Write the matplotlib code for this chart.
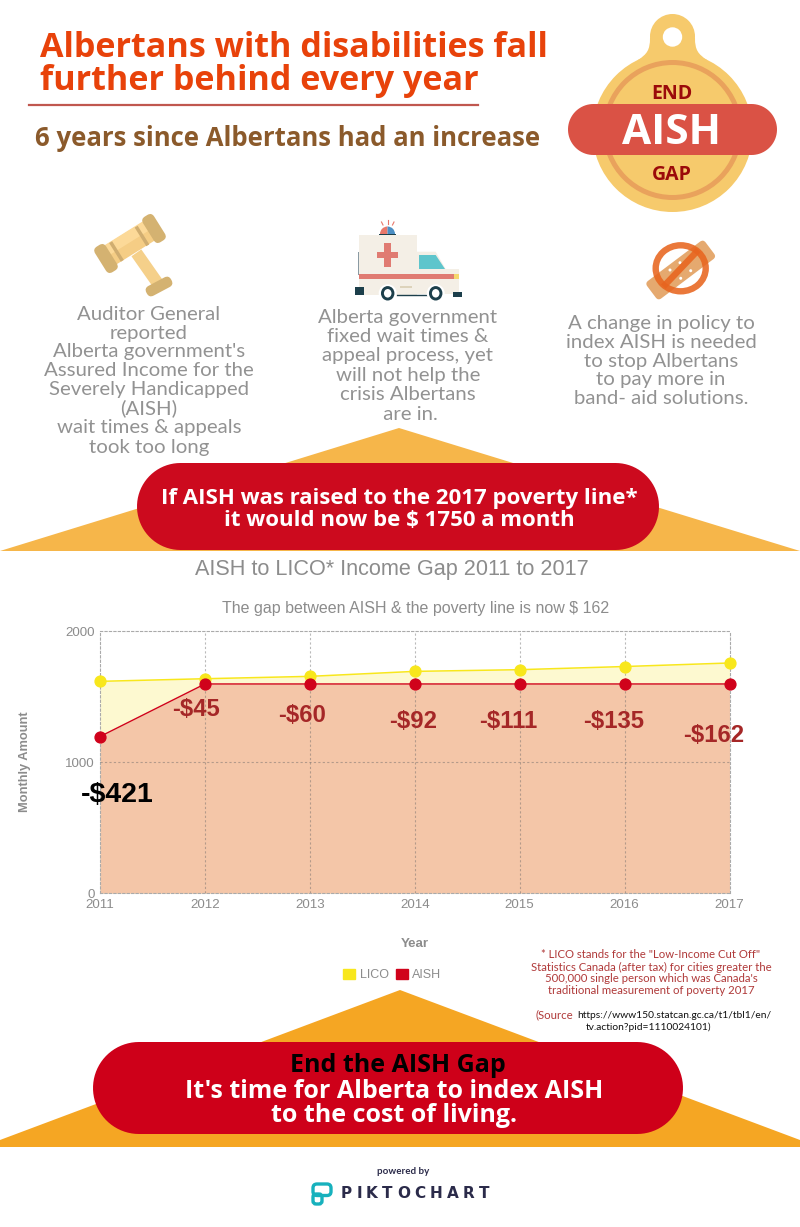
import matplotlib
matplotlib.use('Agg')
import matplotlib.pyplot as plt
import numpy as np
from matplotlib.patches import Polygon, Ellipse, Circle, Rectangle, FancyBboxPatch, PathPatch, Patch, Wedge
from matplotlib.path import Path
from matplotlib.transforms import Affine2D

# Chart data
years = [2011, 2012, 2013, 2014, 2015, 2016, 2017]
lico = [1616, 1636, 1654, 1692, 1705, 1729, 1756]
aish = [1195, 1596, 1596, 1596, 1596, 1596, 1596]
gap_labels = ['-$421', '-$45', '-$60', '-$92', '-$111', '-$135', '-$162']

# Text
title_lines = ['Albertans with disabilities fall', 'further behind every year']
subtitle = '6 years since Albertans had an increase'
col1 = ['Auditor General', 'reported', "Alberta government's", 'Assured Income for the',
        'Severely Handicapped', '(AISH)', 'wait times & appeals', 'took too long']
col2 = ['Alberta government', 'fixed wait times &', 'appeal process, yet', 'will not help the',
        'crisis Albertans', ' are in.']
col3 = ['A change in policy to', 'index AISH is needed', 'to stop Albertans', 'to pay more in',
        'band- aid solutions.']
note_lines = ['* LICO stands for the "Low-Income Cut Off"',
              'Statistics Canada (after tax) for cities greater the',
              "500,000 single person which was Canada's",
              'traditional measurement of poverty 2017']

GREY = '#8c8c8c'
HEAD = 'Open Sans'
BODY = 'Lato'
ARIAL = 'Liberation Sans'

fig = plt.figure(figsize=(8, 12.27), dpi=100, facecolor='white')

# whole page axes in pixels, y down
px = fig.add_axes([0, 0, 1, 1], zorder=0)
px.set_xlim(0, 800)
px.set_ylim(1227, 0)
px.axis('off')


def rot_rect(cx, cy, w, h, angle, color, z=3, rounding=0):
    # rectangle centred on cx, cy and turned by angle degrees
    if rounding:
        p = FancyBboxPatch((cx - w / 2, cy - h / 2), w, h, boxstyle=f'round,pad=0,rounding_size={rounding}',
                           fc=color, ec='none', zorder=z)
    else:
        p = Rectangle((cx - w / 2, cy - h / 2), w, h, fc=color, ec='none', zorder=z)
    p.set_transform(Affine2D().rotate_deg_around(cx, cy, angle) + px.transData)
    px.add_patch(p)


def pill(x0, x1, y0, y1, color, z=2):
    # true half circles at both ends
    r = (y1 - y0) / 2
    t = np.linspace(-np.pi / 2, np.pi / 2, 40)
    right = np.c_[x1 - r + r * np.cos(t), (y0 + y1) / 2 + r * np.sin(t)]
    left = np.c_[x0 + r - r * np.cos(t[::-1]), (y0 + y1) / 2 + r * np.sin(t[::-1])]
    px.add_patch(Polygon(np.r_[right, left], fc=color, ec='none', zorder=z))


def lines_at(lines, x, ys, **kw):
    for s, y in zip(lines, ys):
        px.text(x, y, s, ha='center', va='center', **kw)


def rect(x0, y0, x1, y1, color, z=3):
    px.add_patch(Rectangle((x0, y0), x1 - x0, y1 - y0, fc=color, ec='none', zorder=z))


def spaced(s, x0, x1, y, **kw):
    # spread the letters of s evenly between x0 and x1
    r = fig.canvas.get_renderer()
    inv = px.transData.inverted()
    items = [px.text(0, y, c, ha='left', va='center', **kw) for c in s]
    widths = []
    for t in items:
        b = t.get_window_extent(r)
        widths.append(inv.transform((b.x1, 0))[0] - inv.transform((b.x0, 0))[0])
    gap = (x1 - x0 - sum(widths)) / (len(s) - 1)
    x = x0
    for t, w in zip(items, widths):
        t.set_x(x)
        x += w + gap


# header
px.text(40, 48, title_lines[0], fontsize=24.6, color='#e8420a', fontweight='bold', family=HEAD, va='center')
px.text(40, 81, title_lines[1], fontsize=24.6, color='#e8420a', fontweight='bold', family=HEAD, va='center')
px.plot([29, 478], [105, 105], color='#c0574f', lw=1.6)
px.text(35, 138, subtitle, fontsize=18.5, color='#8b5a2b', fontweight='bold', family=HEAD, va='center')

# badge
px.add_patch(Circle((672.5, 132), 80, fc='#f6ca6c', ec='none', zorder=1))
px.add_patch(Circle((672.5, 36.5), 22.5, fc='#f6ca6c', ec='none', zorder=1))
verts = [(650, 38), (650, 50), (647, 54), (638, 60), (707, 60), (698, 54), (695, 50), (695, 38), (650, 38)]
codes = [Path.MOVETO, Path.CURVE4, Path.CURVE4, Path.CURVE4, Path.LINETO, Path.CURVE4, Path.CURVE4, Path.CURVE4, Path.CLOSEPOLY]
px.add_patch(PathPatch(Path(verts, codes), fc='#f6ca6c', ec='none', zorder=1))
px.add_patch(Circle((672.5, 37), 9.7, fc='white', ec='none', zorder=2))
px.add_patch(Circle((672.5, 130), 67.5, fc='none', ec='#e9a25c', lw=3.6, zorder=2))
pill(568, 777, 104, 155, '#da5245', z=3)
px.text(672, 94, 'END', fontsize=14, color='#9b0a0a', fontweight='bold', family=HEAD, ha='center', va='center', zorder=4)
px.text(672, 175, 'GAP', fontsize=14, color='#9b0a0a', fontweight='bold', family=HEAD, ha='center', va='center', zorder=4)
px.text(672, 134, 'AISH', fontsize=30.5, color='white', fontweight='bold', family=HEAD, ha='center', va='center', zorder=4)

# gavel
rot_rect(147, 268, 37, 12, 55, '#f5d08a')
rot_rect(130, 243, 50, 22, -32, '#f5cd85')
rot_rect(126.5, 238, 50, 11, -32, '#fcd998', z=3.1)
rot_rect(116.5, 251.5, 3.5, 22, -32, '#d0ad70', z=3.2)
rot_rect(142, 236, 3.5, 22, -32, '#d0ad70', z=3.2)
rot_rect(154, 228.5, 13, 30, -32, '#d4b271', z=3.3, rounding=5)
rot_rect(106, 258.5, 13, 30, -32, '#d4b271', z=3.3, rounding=5)
rot_rect(159, 286.5, 28, 11, -28, '#d4b271', z=3.3, rounding=5)

# ambulance
rect(359, 235, 416.7, 295, '#f4efe6')
px.add_patch(Polygon([(416.7, 251.7), (435.7, 251.7), (445.7, 269), (459, 269), (459, 294), (416.7, 294)],
                     fc='#f4efe6', ec='none', zorder=3))
px.add_patch(Polygon([(419, 255), (435.7, 255), (445, 269), (419, 269)], fc='#5ec5cc', ec='none', zorder=4))
rect(359, 274, 454, 279, '#e07b72', z=4)
rect(454, 274, 459, 279, '#f5d76e', z=4)
rect(384.3, 243.3, 391, 266.7, '#e07b72', z=4)
rect(376.7, 251.7, 398.3, 258.3, '#e07b72', z=4)
rect(357.5, 252, 359, 275, '#8a9aa3')
px.add_patch(Wedge((387.5, 234), 7.5, 180, 270, fc='#e8776a', ec='none', zorder=4))
px.add_patch(Wedge((387.5, 234), 7.5, 270, 360, fc='#4c8fc4', ec='none', zorder=4))
rect(379, 234, 396, 235.2, '#1c3f4b', z=5)
for a, b in [((381.5, 222), (383, 225)), ((387.5, 220), (387.5, 223.5)), ((394, 222), (392.5, 225))]:
    px.plot([a[0], b[0]], [a[1], b[1]], color='#e8776a', lw=0.8, zorder=5)
rect(355, 286.7, 364.3, 295, '#1c3f4b', z=4)
rect(453, 291.7, 461.7, 297, '#1c3f4b', z=4)
rect(400, 285.7, 411.7, 287.5, '#ddd3bb', z=4)
px.plot([396.7, 426.7], [295.3, 295.3], color='#1c3f4b', lw=1, zorder=4)
for wx in (387.7, 435.7):
    px.add_patch(Circle((wx, 293.3), 9, fc='white', ec='none', zorder=4.5))
    px.add_patch(Ellipse((wx, 293.3), 10.5, 11.5, fc='white', ec='#1c3f4b', lw=2.1, zorder=5))

# band-aid
rot_rect(680.7, 270, 73, 22, -37, '#e5a96f', rounding=4)
for dx, dy in [(670, 270), (680, 262.7), (690.7, 270.7), (680.7, 278.3)]:
    px.add_patch(Circle((dx, dy), 1.5, fc='white', ec='none', zorder=3.5))
px.add_patch(Ellipse((680.7, 268.3), 50, 46, fc='none', ec='#e8651f', lw=4.6, alpha=0.88, zorder=4))
px.plot([663.3, 698.3], [286.7, 250], color='#e8651f', lw=4.6, alpha=0.88, zorder=4, solid_capstyle='butt')

# three columns
lines_at(col1, 149, [314, 333, 352, 371, 390, 408, 428, 447], fontsize=14.7, color='#929292', family=BODY)
lines_at(col2, 408, [318, 337, 356, 375, 394, 414], fontsize=14.7, color='#929292', family=BODY)
lines_at(col3, 661, [323, 343, 362, 380, 398], fontsize=14.7, color='#929292', family=BODY)

# first banner
px.add_patch(Polygon([(0, 551), (399, 428), (800, 551)], fc='#f6b64a', ec='none', zorder=1))
pill(137, 659, 463, 550, '#cc0a1e')
lines_at(['If AISH was raised to the 2017 poverty line*', 'it would now be $ 1750 a month'], 399, [498.5, 521],
         fontsize=16, color='white', fontweight='bold', family=HEAD, zorder=4)

# chart headings
px.text(392, 569, 'AISH to LICO* Income Gap 2011 to 2017', fontsize=15.6, color=GREY, family=ARIAL, ha='center', va='center')
px.text(416, 608, 'The gap between AISH & the poverty line is now $ 162', fontsize=11.55, color=GREY, family=ARIAL, ha='center', va='center')

# the chart itself
ax = fig.add_axes([100 / 800, 1 - 893.2 / 1227, 629.5 / 800, 262.2 / 1227], zorder=1)
ax.patch.set_alpha(0)
ax.fill_between(years, lico, color='#fdf9d0', lw=0, zorder=1)
ax.fill_between(years, aish, color='#f4c6a8', lw=0, zorder=2)
ax.set_axisbelow(False)
ax.plot(years, lico, color='#f8e71c', lw=1.1, marker='o', ms=7.8, clip_on=False, zorder=4)
ax.plot(years, aish, color='#d0021b', lw=1.0, marker='o', ms=7.8, clip_on=False, zorder=5)
ax.set_xlim(2011, 2017)
ax.set_ylim(0, 2000)
ax.set_xticks(years)
ax.set_yticks([0, 1000, 2000])
ax.grid(True, color='#666666', alpha=0.45, ls=(0, (2, 2)), lw=0.8, zorder=3)
# the frame already draws the outer lines
for g in [ax.get_xgridlines()[0], ax.get_xgridlines()[-1], ax.get_ygridlines()[0], ax.get_ygridlines()[-1]]:
    g.set_visible(False)
ax.tick_params(length=0, labelsize=9.6, labelcolor=GREY, pad=4)
for t in ax.get_xticklabels() + ax.get_yticklabels():
    t.set_family(ARIAL)
for s in ax.spines.values():
    s.set_color('#aaaaaa')
    s.set_linestyle((0, (2, 2)))
    s.set_linewidth(0.8)

px.text(25, 762, 'Monthly Amount', rotation=90, fontsize=9.3, color=GREY, fontweight='bold', family=ARIAL, ha='center', va='center')
px.text(415, 944, 'Year', fontsize=9.6, color=GREY, fontweight='bold', family=ARIAL, ha='center', va='center')

gap_x = [117, 196, 302, 413, 508, 614, 714]
gap_y = [795, 709, 715, 722, 721, 722, 736]
for i, s in enumerate(gap_labels):
    ax.text(gap_x[i], gap_y[i], s, transform=px.transData, fontsize=20.5 if i == 0 else 17.2,
            color='black' if i == 0 else '#a52727', fontweight='bold', family=ARIAL,
            ha='center', va='center', clip_on=False, zorder=6)

leg = px.legend(handles=[Patch(color='#f8e71c', label='LICO'), Patch(color='#d0021b', label='AISH')],
                ncol=2, frameon=False, loc='center', bbox_to_anchor=(392.5, 975), bbox_transform=px.transData,
                handlelength=0.95, handleheight=0.95, handletextpad=0.35, columnspacing=0.6,
                prop={'family': ARIAL, 'size': 9})
for t in leg.get_texts():
    t.set_color(GREY)

# footnote
lines_at(note_lines, 651, [955, 967, 979, 991], fontsize=8.2, color='#b03a3a', family=BODY)
px.text(536, 1015, '(Source', fontsize=8.2, color='#b03a3a', family=BODY, va='center')
px.text(577, 1015, 'https://www150.statcan.gc.ca/t1/tbl1/en/', fontsize=7.4, color='#111111', family=BODY, va='center')
px.text(649, 1027, 'tv.action?pid=1110024101)', fontsize=7.4, color='#111111', ha='center', family=BODY, va='center')

# second banner
px.add_patch(Polygon([(0, 1140), (400, 990), (800, 1140), (800, 1147), (0, 1147)], fc='#f5a623', ec='none', zorder=1))
pill(93, 683, 1042, 1134, '#ce0019')
px.text(398, 1066, 'End the AISH Gap', fontsize=18, color='black', fontweight='bold', family=HEAD, ha='center', va='center', zorder=4)
lines_at(["It's time for Alberta to index AISH", 'to the cost of living.'], 394, [1091, 1116],
         fontsize=18, color='white', fontweight='bold', family=HEAD, zorder=4)

# footer
px.text(403, 1172, 'powered by', fontsize=7, color='#2b2b4a', fontweight='bold', family=BODY, ha='center', va='center')
spaced('PIKTOCHART', 340.7, 489.3, 1194, fontsize=11, color='#2b2b4a', fontweight='bold', family='DejaVu Sans')
px.add_patch(FancyBboxPatch((313, 1184), 18, 11.5, boxstyle='round,pad=0,rounding_size=4', fc='none', ec='#17b1bd', lw=2.4))
px.add_patch(FancyBboxPatch((313, 1194), 9, 10, boxstyle='round,pad=0,rounding_size=3', fc='none', ec='#17b1bd', lw=2.4))

fig.savefig('out.png', dpi=100)
